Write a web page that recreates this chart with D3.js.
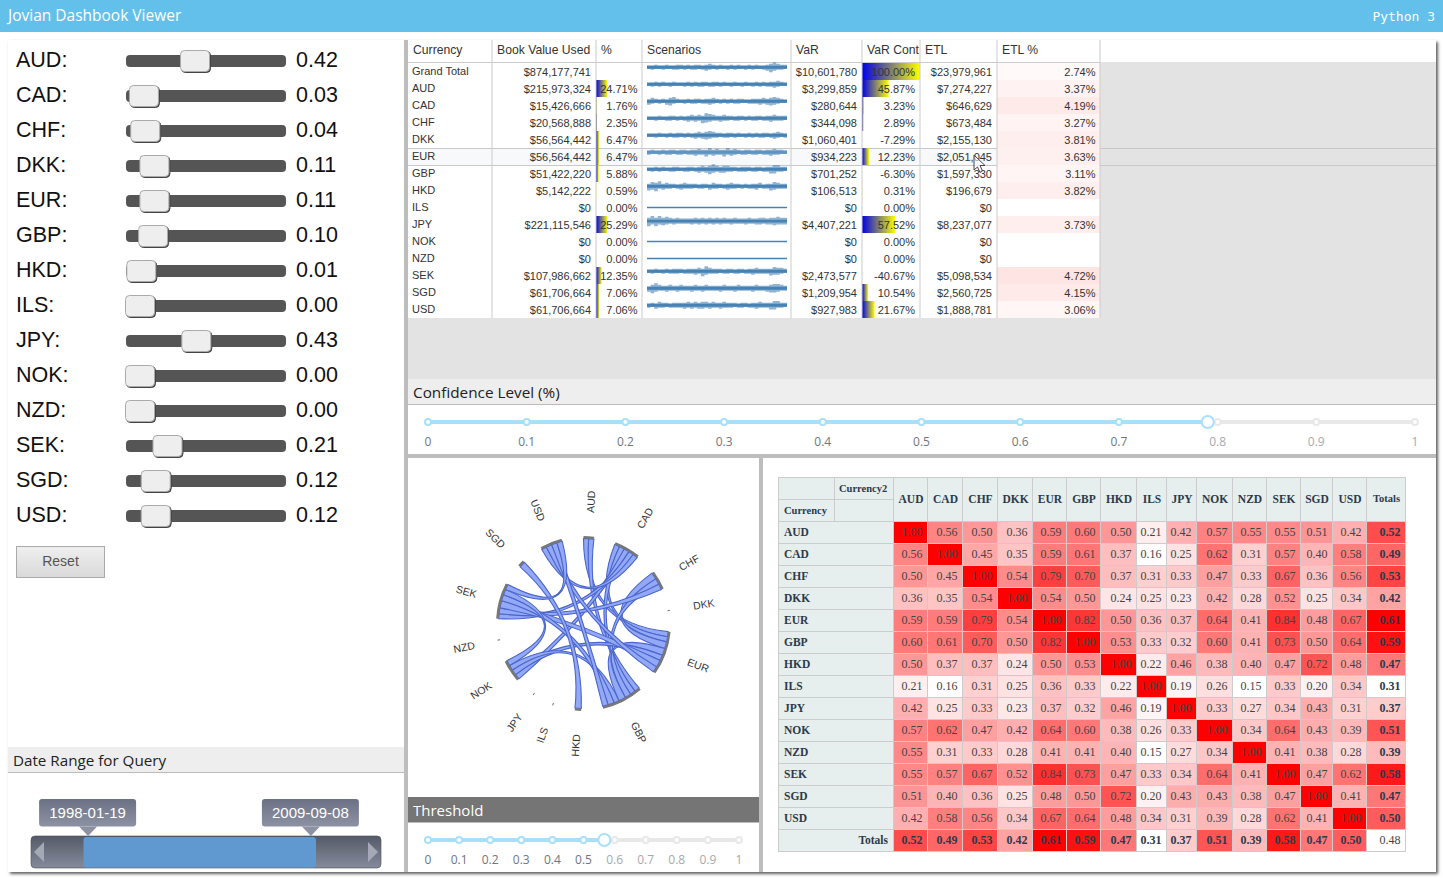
<!DOCTYPE html>
<html>
<head>
<meta charset="utf-8">
<title>Jovian Dashbook Viewer</title>
<script src="https://cdn.jsdelivr.net/npm/d3@7"></script>
<style>
  html, body { margin: 0; padding: 0; background: #fff; overflow: hidden; }
  svg { display: block; }
  text { font-family: "Liberation Sans", Arial, sans-serif; }
  .head { font-family: "Open Sans", sans-serif; }
  .serif { font-family: "Liberation Serif", serif; }
</style>
</head>
<body>
<svg id="page" width="1443" height="880"></svg>
<script>
// currencies and the weights on the left hand sliders
var currencies = ['AUD', 'CAD', 'CHF', 'DKK', 'EUR', 'GBP', 'HKD', 'ILS', 'JPY', 'NOK', 'NZD', 'SEK', 'SGD', 'USD'];
var weights = [0.42, 0.03, 0.04, 0.11, 0.11, 0.10, 0.01, 0.00, 0.43, 0.00, 0.00, 0.21, 0.12, 0.12];

// risk table, first row is the grand total
var riskRows = ['Grand Total'].concat(currencies);
var bookValues = [874177741, 215973324, 15426666, 20568888, 56564442, 56564442, 51422220, 5142222, 0, 221115546, 0, 0, 107986662, 61706664, 61706664];
var bookPct = [null, 24.71, 1.76, 2.35, 6.47, 6.47, 5.88, 0.59, 0, 25.29, 0, 0, 12.35, 7.06, 7.06];
var varValues = [10601780, 3299859, 280644, 344098, 1060401, 934223, 701252, 106513, 0, 4407221, 0, 0, 2473577, 1209954, 927983];
var varCont = [100, 45.87, 3.23, 2.89, -7.29, 12.23, -6.30, 0.31, 0, 57.52, 0, 0, -40.67, 10.54, 21.67];
var etlValues = [23979961, 7274227, 646629, 673484, 2155130, 2051045, 1597330, 196679, 0, 8237077, 0, 0, 5098534, 2560725, 1888781];
var etlPct = [2.74, 3.37, 4.19, 3.27, 3.81, 3.63, 3.11, 3.82, null, 3.73, null, null, 4.72, 4.15, 3.06];

// sparkline band half widths read along each row, flat rows have no movement
var scenarios = [
  [2,2,3,2,2,3,2,2,3,3,2,3,2,3,3,2,3,4,3,2,3,2,2,3,2,3,2,2,3,2,3,2,2,3,4,6,4,3,3,2],
  [2,2,3,2,3,2,2,3,2,2,2,3,2,3,2,3,3,2,3,3,2,3,2,2,3,2,2,3,2,2,3,2,3,2,3,3,4,3,2,2],
  [2,4,3,2,3,2,4,5,3,2,2,3,2,3,3,2,3,3,4,3,2,3,2,3,2,3,3,2,2,3,3,3,4,3,4,5,4,3,2,2],
  [2,2,2,3,2,2,3,3,2,3,2,3,4,3,4,3,6,5,4,3,3,4,3,3,2,3,3,2,3,2,3,3,2,3,3,4,3,3,3,2],
  [2,2,2,3,2,2,3,2,3,3,2,3,2,3,4,3,4,5,4,3,3,2,3,3,2,3,2,2,3,2,3,2,3,3,2,3,4,3,2,3],
  [2,3,2,2,3,2,3,3,2,3,3,2,3,3,4,3,3,5,3,4,3,3,5,3,4,3,2,3,3,2,3,3,2,3,3,4,3,3,2,2],
  [2,2,3,2,3,2,2,3,3,2,2,3,3,2,3,4,3,4,6,4,3,4,4,3,3,2,3,3,3,2,3,3,2,3,3,5,5,3,3,2],
  [3,5,4,6,3,4,3,3,2,3,4,3,3,3,2,3,3,2,4,3,3,2,3,4,3,3,2,3,2,3,3,4,2,3,3,5,4,3,3,3],
  [1,1],
  [4,6,4,6,4,5,4,3,4,3,3,3,3,4,3,4,3,4,3,4,3,4,3,3,4,3,3,3,4,3,3,4,4,3,4,4,5,4,4,4],
  [1,1],
  [1,1],
  [2,2,3,2,2,3,2,3,3,3,2,3,3,3,4,3,6,4,3,3,3,2,3,3,2,3,3,2,3,3,4,3,3,3,3,5,4,4,3,2],
  [2,4,6,4,3,3,4,3,3,4,3,3,3,4,3,3,4,3,3,3,3,4,3,3,3,4,3,3,3,3,4,3,3,3,4,5,5,4,3,3],
  [2,3,2,4,3,3,2,3,3,3,3,4,3,4,3,4,4,3,4,3,3,4,3,3,3,2,3,3,2,3,3,4,3,3,3,5,5,3,3,2]
];
var scenarioMid = [5, 5, 5, 5, 5, 5, 5, 5, 0, 4, 0, 0, 5, 5, 5];

// correlations, totals are kept apart
var corrMatrix = [
  [1.00, 0.56, 0.50, 0.36, 0.59, 0.60, 0.50, 0.21, 0.42, 0.57, 0.55, 0.55, 0.51, 0.42],
  [0.56, 1.00, 0.45, 0.35, 0.59, 0.61, 0.37, 0.16, 0.25, 0.62, 0.31, 0.57, 0.40, 0.58],
  [0.50, 0.45, 1.00, 0.54, 0.79, 0.70, 0.37, 0.31, 0.33, 0.47, 0.33, 0.67, 0.36, 0.56],
  [0.36, 0.35, 0.54, 1.00, 0.54, 0.50, 0.24, 0.25, 0.23, 0.42, 0.28, 0.52, 0.25, 0.34],
  [0.59, 0.59, 0.79, 0.54, 1.00, 0.82, 0.50, 0.36, 0.37, 0.64, 0.41, 0.84, 0.48, 0.67],
  [0.60, 0.61, 0.70, 0.50, 0.82, 1.00, 0.53, 0.33, 0.32, 0.60, 0.41, 0.73, 0.50, 0.64],
  [0.50, 0.37, 0.37, 0.24, 0.50, 0.53, 1.00, 0.22, 0.46, 0.38, 0.40, 0.47, 0.72, 0.48],
  [0.21, 0.16, 0.31, 0.25, 0.36, 0.33, 0.22, 1.00, 0.19, 0.26, 0.15, 0.33, 0.20, 0.34],
  [0.42, 0.25, 0.33, 0.23, 0.37, 0.32, 0.46, 0.19, 1.00, 0.33, 0.27, 0.34, 0.43, 0.31],
  [0.57, 0.62, 0.47, 0.42, 0.64, 0.60, 0.38, 0.26, 0.33, 1.00, 0.34, 0.64, 0.43, 0.39],
  [0.55, 0.31, 0.33, 0.28, 0.41, 0.41, 0.40, 0.15, 0.27, 0.34, 1.00, 0.41, 0.38, 0.28],
  [0.55, 0.57, 0.67, 0.52, 0.84, 0.73, 0.47, 0.33, 0.34, 0.64, 0.41, 1.00, 0.47, 0.62],
  [0.51, 0.40, 0.36, 0.25, 0.48, 0.50, 0.72, 0.20, 0.43, 0.43, 0.38, 0.47, 1.00, 0.41],
  [0.42, 0.58, 0.56, 0.34, 0.67, 0.64, 0.48, 0.34, 0.31, 0.39, 0.28, 0.62, 0.41, 1.00]
];
var corrTotals = [0.52, 0.49, 0.53, 0.42, 0.61, 0.59, 0.47, 0.31, 0.37, 0.51, 0.39, 0.58, 0.47, 0.50];
var corrGrandTotal = 0.48;

// pairs above the threshold, as drawn in the chord diagram
var chordLinks = [
  ['AUD', 'EUR'], ['AUD', 'GBP'], ['CAD', 'EUR'], ['CAD', 'GBP'], ['CAD', 'NOK'],
  ['CAD', 'SEK'], ['CAD', 'USD'], ['CHF', 'EUR'], ['CHF', 'GBP'], ['CHF', 'SEK'],
  ['EUR', 'GBP'], ['EUR', 'NOK'], ['EUR', 'SEK'], ['EUR', 'USD'], ['GBP', 'NOK'],
  ['GBP', 'SEK'], ['GBP', 'USD'], ['HKD', 'SGD'], ['NOK', 'SEK'], ['SEK', 'USD']
];

var sliderTicks = [0, 0.1, 0.2, 0.3, 0.4, 0.5, 0.6, 0.7, 0.8, 0.9, 1];
var confidenceLevel = 0.79;
var thresholdLevel = 0.567;
var dateRange = ['1998-01-19', '2009-09-08'];

!(function () {
  var svg = d3.select('#page'),
      defs = svg.append('defs'),
      money = d3.format('$,.0f');

  function pct(v) {
    return v.toFixed(2);
  }

  function label(parent, x, y, str, size, color, anchor, cls) {
    return parent.append('text')
      .attr('x', x).attr('y', y)
      .attr('dy', '0.35em')
      .attr('class', cls || null)
      .attr('text-anchor', anchor || 'start')
      .attr('font-size', size)
      .attr('fill', color)
      .text(str);
  }

  function box(parent, x, y, w, h, fill) {
    return parent.append('rect').attr('x', x).attr('y', y).attr('width', w).attr('height', h).attr('fill', fill);
  }

  function linearGrad(id, stops, horizontal) {
    var g = defs.append('linearGradient').attr('id', id)
      .attr('x1', 0).attr('y1', 0)
      .attr('x2', horizontal ? 1 : 0).attr('y2', horizontal ? 0 : 1);
    stops.forEach(function (s, i) {
      g.append('stop').attr('offset', i / (stops.length - 1)).attr('stop-color', s);
    });
  }

  var shadow = defs.append('filter').attr('id', 'shadow')
    .attr('x', '-2%').attr('y', '-2%').attr('width', '104%').attr('height', '104%');
  shadow.append('feDropShadow').attr('dx', 2).attr('dy', 2).attr('stdDeviation', 1.6)
    .attr('flood-color', '#444').attr('flood-opacity', 0.85);

  linearGrad('bar', ['#0000e6', '#ffff00'], true);
  linearGrad('btn', ['#efefef', '#d9d9d9']);
  linearGrad('tip', ['#6b7184', '#8d92a3']);
  linearGrad('rail', ['#555a68', '#868b9c']);

  // page frame
  box(svg, 0, 0, 1443, 32, '#63c0ea');
  label(svg, 8, 15.5, 'Jovian Dashbook Viewer', 15.5, '#fff', 'start', 'head');
  label(svg, 1435, 16.5, 'Python 3', 13, '#fff', 'end').style('font-family', '"DejaVu Sans Mono", monospace');

  box(svg, 8, 40, 1428, 832, '#bdbdbd').attr('filter', 'url(#shadow)');
  box(svg, 8, 40, 396, 832, '#fff');
  box(svg, 408, 40, 1028, 414, '#fff');
  box(svg, 408, 458, 351, 414, '#fff');
  box(svg, 763, 458, 673, 414, '#fff');

  // weight sliders
  var weightG = svg.append('g'),
      weightX = d3.scaleLinear().domain([0, 1]).range([140, 271]),
      weightY = d3.scalePoint().domain(currencies).range([60, 515]);

  currencies.forEach(function (c, i) {
    var y = weightY(c);
    label(weightG, 16, y - 0.5, c + ':', 21.5, '#111');
    box(weightG, 126, y - 5, 160, 12, '#555').attr('rx', 4);
    box(weightG, weightX(weights[i]) - 14.5, y - 9.5, 29, 21, '#eee')
      .attr('rx', 4).attr('stroke', '#aaa').attr('stroke-width', 1)
      .style('filter', 'drop-shadow(1px 1px 0 #444)');
    label(weightG, 296, y - 0.5, d3.format('.2f')(weights[i]), 21.5, '#111');
  });

  box(svg, 16.5, 546.5, 88, 31, 'url(#btn)').attr('stroke', '#aaa');
  label(svg, 60.5, 561.5, 'Reset', 14, '#555', 'middle');

  // date range
  box(svg, 8, 747, 396, 26, '#eee');
  box(svg, 8, 772, 396, 1, '#bbb');
  label(svg, 13, 760.5, 'Date Range for Query', 15.2, '#222', 'start', 'head');

  var dateX = d3.scaleTime()
    .domain([new Date(1995, 9, 1), new Date(2012, 8, 1)])
    .range([44, 368]);
  var parseDate = d3.timeParse('%Y-%m-%d');

  box(svg, 31, 836, 350, 32, 'url(#rail)').attr('rx', 4).attr('stroke', '#4a4e5a').attr('stroke-width', 0.6);
  box(svg, 83.5, 837, 232.5, 30.5, '#6098d0').attr('rx', 3);
  svg.append('path').attr('d', 'M44,842 L34,852 L44,862 Z').attr('fill', '#a5a9b6');
  svg.append('path').attr('d', 'M368,842 L378,852 L368,862 Z').attr('fill', '#a5a9b6');

  dateRange.forEach(function (d) {
    var x = dateX(parseDate(d));
    box(svg, x - 49, 799, 97, 27.5, 'url(#tip)').attr('rx', 3);
    svg.append('path').attr('d', 'M' + (x - 9) + ',826.5 L' + x + ',836 L' + (x + 9) + ',826.5 Z').attr('fill', '#8d92a3');
    label(svg, x - 0.5, 813, d, 15, '#fff', 'middle');
  });

  // risk table
  var tableG = svg.append('g'),
      colEdges = [408, 492, 596, 642, 791, 862, 920, 997, 1100],
      colHeads = ['Currency', 'Book Value Used', '%', 'Scenarios', 'VaR', 'VaR Cont', 'ETL', 'ETL %'],
      rowY = d3.scaleBand().domain(riskRows).range([63, 318]),
      rowH = rowY.bandwidth(),
      etlColor = d3.scaleLinear().domain([2.2, 4.72, 12]).range(['#fff', '#fee4e3', '#f00']),
      sparkX = d3.scaleLinear().domain([0, 1]).range([647, 787]),
      sparkY = d3.scaleLinear().domain([-10, 10]).range([rowH, 0]),
      pctBar = d3.scaleLinear().domain([0, 100]).range([0, colEdges[3] - colEdges[2]]),
      contBar = d3.scaleLinear().domain([0, 100]).range([0, colEdges[6] - colEdges[5]]);

  box(tableG, 408, 62, 1028, 317, '#e3e3e3');
  box(tableG, 408, 63, 692, 255, '#fff');
  box(tableG, 408, 148, 692, 17, '#f7f9fb');
  box(tableG, 408, 148, 1028, 1, '#c8c8c8');
  box(tableG, 408, 165, 1028, 1, '#c8c8c8');
  box(tableG, 408, 62, 692, 1, '#ccc');

  defs.append('clipPath').attr('id', 'sparkRange').append('rect')
    .attr('x', 670).attr('y', 40).attr('width', 94).attr('height', 300);

  var area = d3.area()
    .curve(d3.curveStepAfter)
    .x(function (d, i, a) { return sparkX(i / (a.length - 1)); })
    .y0(function (d, i, a) { return sparkY(-a[(i + 1) % a.length]); })
    .y1(function (d) { return sparkY(d); });

  riskRows.forEach(function (r, i) {
    var top = rowY(r),
        y = top + rowH / 2 - 0.5,
        row = tableG.append('g'),
        flat = bookValues[i] === 0;

    if (etlPct[i] !== null) {
      box(row, colEdges[7], top, colEdges[8] - colEdges[7], rowH, etlColor(etlPct[i]));
    }
    if (bookPct[i] > 0) {
      box(row, colEdges[2], top, pctBar(bookPct[i]), rowH, 'url(#bar)');
    }
    if (varCont[i] > 0) {
      box(row, colEdges[5], top, contBar(varCont[i]), rowH, 'url(#bar)');
    }

    // fuzz of the scenarios around a darker core
    var band = row.append('g').attr('transform', 'translate(0,' + (top - sparkY(0) + sparkY(scenarioMid[i])) + ')');
    band.append('path').attr('d', area(scenarios[i])).attr('fill', '#4682b4').attr('opacity', flat ? 1 : 0.6);
    if (!flat) {
      band.append('line').attr('x1', sparkX(0)).attr('x2', sparkX(1))
        .attr('y1', sparkY(0)).attr('y2', sparkY(0))
        .attr('stroke', r === 'EUR' ? '#5f93c2' : '#4682b4').attr('stroke-width', 2.8);
    }
    band.append('path').attr('d', area(scenarios[i]))
      .attr('fill', '#6ea0cc')
      .attr('opacity', flat ? 1 : 0.3)
      .attr('clip-path', 'url(#sparkRange)');

    label(row, 412, y, r, 11, '#333');
    label(row, colEdges[2] - 5, y + 1, money(bookValues[i]), 11, '#333', 'end');
    if (bookPct[i] !== null) {
      label(row, colEdges[3] - 4.5, y + 1, pct(bookPct[i]) + '%', 11, '#333', 'end');
    }
    label(row, colEdges[5] - 5, y + 1, money(varValues[i]), 11, '#333', 'end');
    label(row, colEdges[6] - 5, y + 1, pct(varCont[i]) + '%', 11, '#333', 'end');
    label(row, colEdges[7] - 5, y + 1, money(etlValues[i]), 11, '#333', 'end');
    if (etlPct[i] !== null) {
      label(row, colEdges[8] - 4.5, y + 1, pct(etlPct[i]) + '%', 11, '#333', 'end');
    }
  });

  colHeads.forEach(function (h, i) {
    label(tableG, colEdges[i] + 5, 50, h, 12.2, '#333');
  });
  colEdges.slice(1).forEach(function (x) {
    box(tableG, x - 0.5, 40, 1, 278, '#ccc');
  });

  // mouse pointer left on the table
  tableG.append('path')
    .attr('d', 'M974,155 L974,170 L977.5,167 L980,172.5 L982.5,171 L980,165.5 L985,165.5 Z')
    .attr('fill', 'rgba(255,255,255,0.55)').attr('stroke', '#444').attr('stroke-width', 1);

  function drawSlider(parent, x0, x1, y, labelY, value) {
    var x = d3.scaleLinear().domain([0, 1]).range([x0, x1]);
    parent.append('line').attr('x1', x(0)).attr('x2', x(1)).attr('y1', y).attr('y2', y)
      .attr('stroke', '#e8e8e8').attr('stroke-width', 4);
    parent.append('line').attr('x1', x(0)).attr('x2', x(value)).attr('y1', y).attr('y2', y)
      .attr('stroke', '#a8e0fb').attr('stroke-width', 4);
    sliderTicks.forEach(function (t) {
      var on = t <= value;
      parent.append('circle').attr('cx', x(t)).attr('cy', y).attr('r', 3)
        .attr('fill', '#fff').attr('stroke', on ? '#a8e0fb' : '#e8e8e8').attr('stroke-width', 2);
      label(parent, x(t), labelY, String(t), 12, on ? '#6f7580' : '#a5a9b0', 'middle', 'head');
    });
    parent.append('circle').attr('cx', x(value)).attr('cy', y).attr('r', 6)
      .attr('fill', '#fff').attr('stroke', '#a8e0fb').attr('stroke-width', 2);
  }

  // confidence level
  box(svg, 408, 379, 1028, 25, '#eee');
  box(svg, 408, 404, 1028, 1, '#bbb');
  label(svg, 413, 392.5, 'Confidence Level (%)', 15.3, '#222', 'start', 'head');
  drawSlider(svg.append('g'), 428, 1415, 422, 441.5, confidenceLevel);

  // threshold
  box(svg, 408, 797, 351, 25, '#757575');
  box(svg, 408, 822, 351, 1, '#bbb');
  label(svg, 413, 810.5, 'Threshold', 15, '#fff', 'start', 'head');
  drawSlider(svg.append('g'), 428, 739, 840, 859.5, thresholdLevel);

  // chord diagram, ribbons are as wide as the correlation of the pair
  var chordG = svg.append('g').attr('transform', 'translate(583.5,623.5)'),
      matrix = currencies.map(function () { return currencies.map(function () { return 0; }); });

  chordLinks.forEach(function (l) {
    var a = currencies.indexOf(l[0]), b = currencies.indexOf(l[1]);
    matrix[a][b] = corrMatrix[a][b];
    matrix[b][a] = corrMatrix[b][a];
  });

  var chords = d3.chord().padAngle(0.254)(matrix),
      outerR = 87.5,
      arc = d3.arc().innerRadius(outerR - 2.5).outerRadius(outerR),
      ribbon = d3.ribbon().radius(outerR - 2.5);

  chordG.selectAll('path.ribbon').data(chords).join('path')
    .attr('class', 'ribbon')
    .attr('d', ribbon)
    .attr('fill', '#93a8f6')
    .attr('stroke', '#4a66cc')
    .attr('stroke-width', 1.1);

  chordG.selectAll('path.group').data(chords.groups).join('path')
    .attr('class', 'group')
    .attr('d', function (g) {
      // groups with no link still show as a small speck
      return arc({ startAngle: g.startAngle, endAngle: Math.max(g.endAngle, g.startAngle + 0.012) });
    })
    .attr('fill', '#777');

  chordG.selectAll('text').data(chords.groups).join('text')
    .attr('transform', function (g) {
      var mid = (g.startAngle + g.endAngle) / 2,
          deg = mid * 180 / Math.PI - 90;
      return 'rotate(' + deg + ') translate(111,0)' + (mid > Math.PI ? ' rotate(180)' : '');
    })
    .attr('dy', '0.35em')
    .attr('text-anchor', function (g) { return (g.startAngle + g.endAngle) / 2 > Math.PI ? 'end' : 'start'; })
    .attr('font-size', 10.5)
    .attr('fill', '#333')
    .text(function (g) { return currencies[g.index]; });

  // correlation table
  var corrG = svg.append('g'),
      cellEdges = [893, 927, 962, 997, 1032, 1066, 1100, 1136, 1166, 1196, 1232, 1266, 1300, 1332, 1366, 1405],
      corrY = d3.scaleBand().domain(currencies.concat(['Totals'])).range([521, 851]),
      cellH = corrY.bandwidth(),
      cellColor = d3.scaleLinear().domain([0.155, 1]).range(['#fff', '#f00']).clamp(true),
      totalColor = d3.scaleLinear().domain([0.31, 0.61]).range(['#fff', '#f00']).clamp(true),
      headBg = '#e6eeee',
      textColor = '#2c3a4a',
      fmt2 = d3.format('.2f');

  function cell(x0, x1, y, h, fill) {
    return box(corrG, x0 + 0.5, y + 0.5, x1 - x0, h, fill).attr('stroke', '#ccc').attr('stroke-width', 1);
  }

  cell(778, 834, 477, 22, headBg);
  cell(834, 893, 477, 22, headBg);
  cell(778, 834, 499, 22, headBg);
  cell(834, 893, 499, 22, headBg);
  label(corrG, 839, 488, 'Currency2', 10.5, textColor, 'start', 'serif').attr('font-weight', 'bold');
  label(corrG, 784, 510, 'Currency', 10.5, textColor, 'start', 'serif').attr('font-weight', 'bold');

  currencies.concat(['Totals']).forEach(function (c, i) {
    var x0 = cellEdges[i], x1 = cellEdges[i + 1];
    cell(x0, x1, 477, 44, headBg);
    label(corrG, (x0 + x1) / 2 + 1, 498.5, c, c === 'Totals' ? 10.5 : 11.5, textColor, 'middle', 'serif').attr('font-weight', 'bold');
  });

  currencies.forEach(function (c, r) {
    var y = corrY(c);
    cell(778, 893, y, cellH, headBg);
    label(corrG, 784, y + cellH / 2 - 0.5, c, 11.5, textColor, 'start', 'serif').attr('font-weight', 'bold');
    corrMatrix[r].forEach(function (v, k) {
      cell(cellEdges[k], cellEdges[k + 1], y, cellH, cellColor(v));
      label(corrG, cellEdges[k + 1] - 4.5, y + cellH / 2 - 0.5, fmt2(v), 12, '#444', 'end', 'serif');
    });
    cell(cellEdges[14], cellEdges[15], y, cellH, totalColor(corrTotals[r]));
    label(corrG, cellEdges[15] - 4.5, y + cellH / 2 - 0.5, fmt2(corrTotals[r]), 12, textColor, 'end', 'serif').attr('font-weight', 'bold');
  });

  var totY = corrY('Totals');
  cell(778, 893, totY, cellH, headBg);
  label(corrG, 888, totY + cellH / 2 - 0.5, 'Totals', 11.5, textColor, 'end', 'serif').attr('font-weight', 'bold');
  corrTotals.forEach(function (v, k) {
    cell(cellEdges[k], cellEdges[k + 1], totY, cellH, totalColor(v));
    label(corrG, cellEdges[k + 1] - 4.5, totY + cellH / 2 - 0.5, fmt2(v), 12, textColor, 'end', 'serif').attr('font-weight', 'bold');
  });
  cell(cellEdges[14], cellEdges[15], totY, cellH, '#fff');
  label(corrG, cellEdges[15] - 4.5, totY + cellH / 2 - 0.5, fmt2(corrGrandTotal), 12, '#444', 'end', 'serif');
})();
</script>
</body>
</html>
